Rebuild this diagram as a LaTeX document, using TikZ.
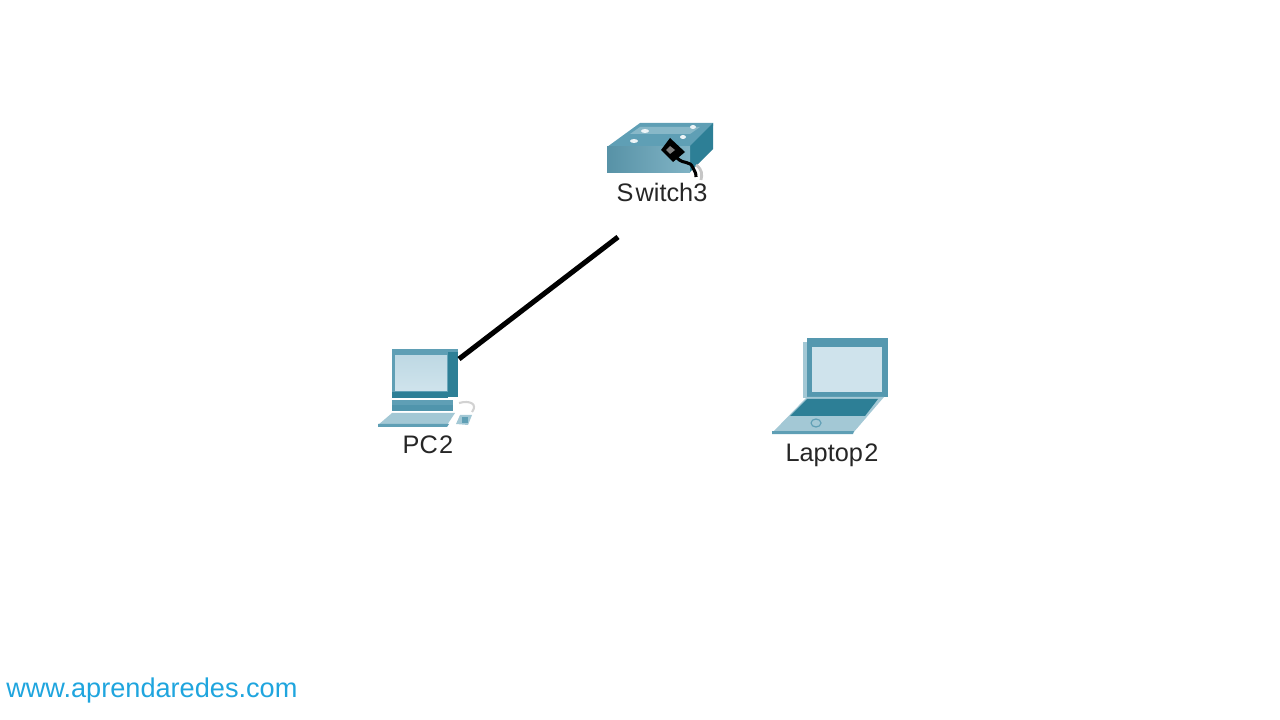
\documentclass[tikz,border=0pt]{standalone}
\usepackage{fontspec}
\setmainfont{Liberation Sans}
\usepackage{xcolor}
\definecolor{tealmid}{HTML}{5F9FB5}
\definecolor{tealdark}{HTML}{2D7F96}
\definecolor{teallight}{HTML}{A3C8D5}
\definecolor{screenblue}{HTML}{CFE3EC}
\definecolor{urlblue}{HTML}{1FA5DE}
\tikzset{
  devlabel/.style={font=\fontsize{18}{20}\selectfont, text=black!85, inner sep=0pt},
  cable/.style={line width=3.6pt, black},
  facemid/.style={fill=tealmid, draw=none},
  facedark/.style={fill=tealdark, draw=none},
  facelight/.style={fill=teallight, draw=none},
  facescreen/.style={fill=screenblue, draw=none}
}

\begin{document}
\begin{tikzpicture}[x=0.025cm, y=-0.025cm]
  \useasboundingbox (0,0) rectangle (1280,720);

  % Switch: top, front and side faces
  \fill[facemid] (607,147) -- (640,123) -- (713,123) -- (713,126) -- (690,148) -- cycle;
  \fill[teallight!60!tealmid] (630,134) -- (640,127) -- (700,127) -- (690,134) -- cycle;
  \fill[facedark] (689,147) -- (713,123) -- (713,149) -- (689,173) -- cycle;
  \shade[left color=tealmid!92!black, right color=teallight!50!tealmid] (607,147) rectangle (690,173);
  \fill[white!80!teallight] (645,131) ellipse (4 and 2);
  \fill[white!80!teallight] (634,141) ellipse (4 and 2);
  \fill[white!80!teallight] (693,127) ellipse (3 and 2);
  \fill[white!80!teallight] (683,137) ellipse (3 and 2);

  % Plug cursor over the switch
  \draw[gray!45, line width=2pt] (696,165) .. controls (703,170) and (702,175) .. (701,180);
  \fill[black] (670,138) -- (685,152) -- (673,162) -- (661,150) -- cycle;
  \fill[gray] (670,146) -- (675,150) -- (670,154) -- (666,150) -- cycle;
  \draw[black, line width=2.2pt] (677,158) .. controls (684,165) and (690,160) .. (693,168)
    .. controls (695,172) and (696,173) .. (696,177);

  % PC: monitor, base, keyboard and mouse
  \fill[facemid] (392,349) -- (458,349) -- (458,397) -- (392,397) -- cycle;
  \fill[facedark] (448,352) rectangle (458,397);
  \fill[facedark] (392,392) rectangle (448,398);
  \shade[top color=screenblue!85!tealmid, bottom color=screenblue] (395,356) rectangle (447,391);
  \fill[facemid] (392,400) rectangle (453,405);
  \fill[tealmid!70!tealdark] (392,405) rectangle (453,411);
  \fill[facelight] (378,425) -- (392,413) -- (455,413) -- (447,425) -- cycle;
  \fill[facemid] (378,424) -- (449,424) -- (447,427) -- (378,427) -- cycle;
  \draw[gray!35, line width=1.5pt] (459,403) .. controls (470,400) and (478,404) .. (472,412);
  \fill[facelight] (456,424) -- (460,415) -- (472,415) -- (468,425) -- cycle;
  \fill[facemid] (462,417) rectangle (468,423);

  % Laptop: lid, screen and base
  \fill[facelight] (803,342) rectangle (808,398);
  \fill[tealmid!80!tealdark] (807,338) rectangle (888,397);
  \fill[facescreen] (812,347) rectangle (882,392);
  \fill[facelight] (772,433) -- (807,397) -- (884,397) -- (853,433) -- cycle;
  \fill[facedark] (790,416) -- (807,399) -- (878,399) -- (865,416) -- cycle;
  \fill[facemid] (772,431) -- (854,431) -- (853,434) -- (772,434) -- cycle;
  \draw[tealmid, line width=0.8pt] (816,423) ellipse (5 and 4);

  % Device labels
  \node[devlabel] (switchlabel) at (662,192) {S\kern1.5pt witch3};
  \node[devlabel] (pclabel) at (428,445) {PC\kern1pt 2};
  \node[devlabel] (laptoplabel) at (832,455) {Laptop\kern1pt 2};
  \node[anchor=west, inner sep=0pt, text=urlblue, font=\fontsize{19.3}{22}\selectfont] (urltext) at (6,690) {www.aprendaredes.com};

  % The cable from the PC, its far end still free
  \coordinate (pcport) at (459,359);
  \coordinate (cableend) at (618,237);
  \draw[cable] (pcport) -- (cableend);
\end{tikzpicture}
\end{document}
